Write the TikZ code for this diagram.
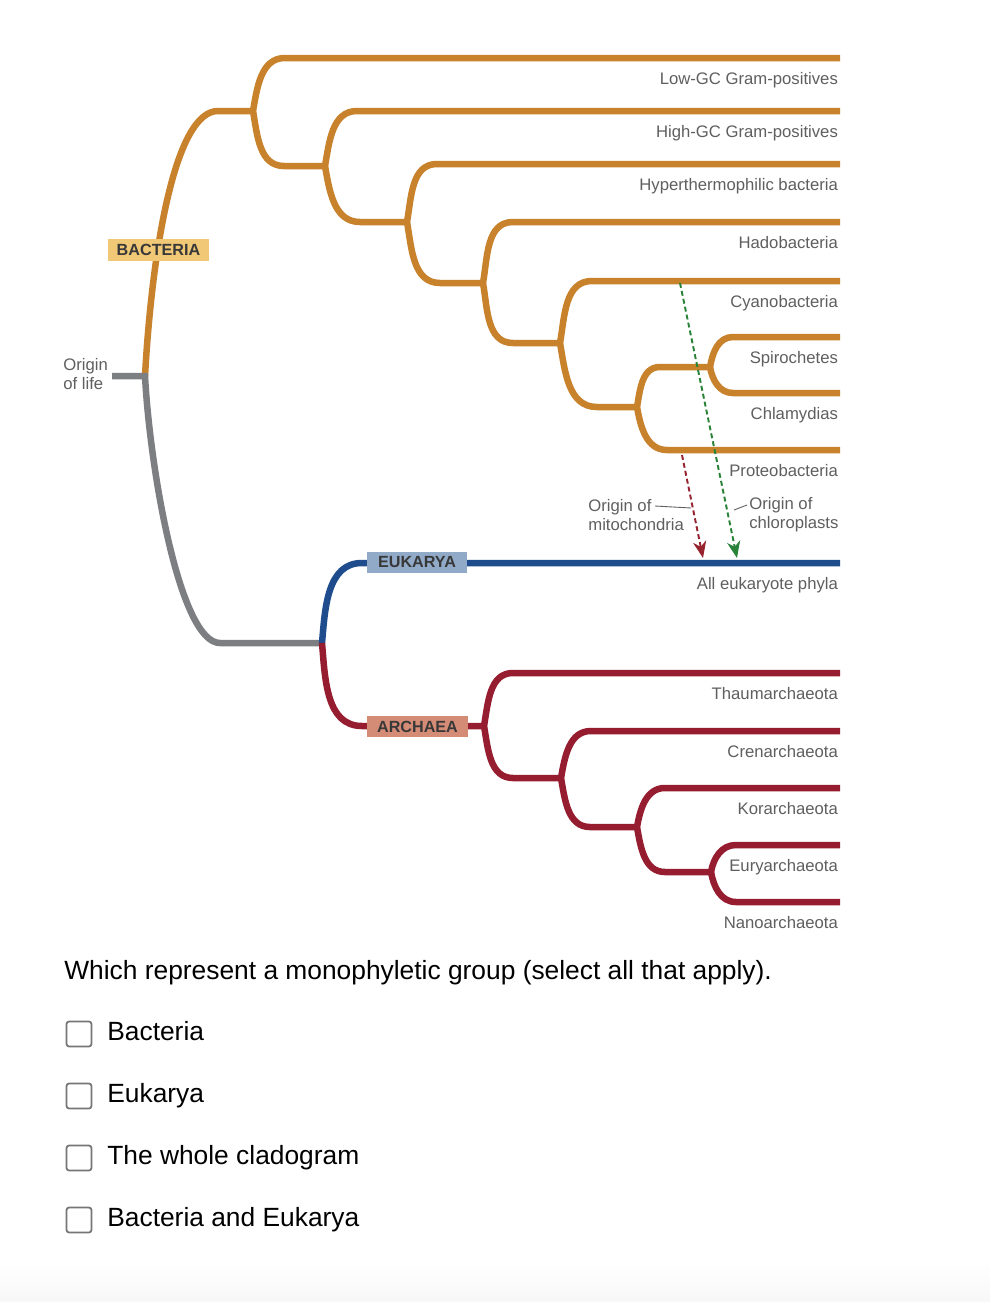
\documentclass[tikz,border=0pt]{standalone}
\usepackage{fontspec}
\setmainfont{Liberation Sans}
\usetikzlibrary{positioning,calc,arrows.meta}
\definecolor{bactcol}{RGB}{200,130,44}
\definecolor{rootcol}{RGB}{125,126,130}
\definecolor{eukcol}{RGB}{30,76,140}
\definecolor{archcol}{RGB}{150,28,48}
\definecolor{bacfill}{RGB}{240,200,118}
\definecolor{eukfill}{RGB}{145,170,200}
\definecolor{archfill}{RGB}{212,140,118}
\definecolor{chlcol}{RGB}{40,130,55}
\definecolor{mitcol}{RGB}{150,35,45}
\definecolor{lblgray}{RGB}{95,95,95}
\definecolor{boxgray}{RGB}{118,118,118}
\begin{document}
\begin{tikzpicture}[x=0.02cm, y=-0.02cm,
  br/.style={line width=0.13cm},
  brup/.style={out=80, in=180},
  brdn/.style={out=-80, in=180},
  lbl/.style={font=\fontsize{9.5}{10.8}\selectfont, text=lblgray, inner sep=0pt, text height=7pt, text depth=2pt},
  note/.style={font=\fontsize{9.5}{10.8}\selectfont, text=lblgray, inner sep=0pt, align=left},
  tag/.style={font=\fontsize{9.2}{11}\selectfont\bfseries, text=black!78, inner sep=0pt, minimum width=2.02cm, minimum height=0.43cm},
  dsh/.style={line width=1.1pt, dash pattern=on 2.8pt off 1.8pt, -{Stealth[length=9.5pt, width=7.5pt, inset=3pt]}},
  lead/.style={draw=lblgray, line width=0.5pt},
  chk/.style={draw=boxgray, line width=1pt, rounded corners=1.5pt, minimum size=0.5cm, inner sep=0pt},
  opt/.style={font=\fontsize{15}{18}\selectfont, inner sep=0pt, anchor=base west}]
\useasboundingbox (0,0) rectangle (990,1302);
\fill[white] (0,0) rectangle (990,1302);
\shade[top color=white, bottom color=black!3] (0,1262) rectangle (990,1302);

% junctions and tips
\coordinate (orig) at (112,376);
\coordinate (root) at (145,376);
\coordinate (bA) at (253,111);
\coordinate (bB) at (325,166);
\coordinate (bC) at (407,222);
\coordinate (bD) at (483,283);
\coordinate (bE) at (560,343);
\coordinate (bF) at (637,407);
\coordinate (bG) at (710,367);
\coordinate (tLow) at (840,58);
\coordinate (tHigh) at (840,111);
\coordinate (tHyp) at (840,164);
\coordinate (tHad) at (840,222);
\coordinate (tCya) at (840,281);
\coordinate (tSpi) at (840,337);
\coordinate (tChl) at (840,393);
\coordinate (tPro) at (840,450);
\coordinate (split) at (322,643);
\coordinate (eEnd) at (840,563);
\coordinate (aH) at (484,726);
\coordinate (aI) at (561,778);
\coordinate (aJ) at (637,827);
\coordinate (aK) at (711,872);
\coordinate (tTha) at (840,673);
\coordinate (tCre) at (840,731);
\coordinate (tKor) at (840,788);
\coordinate (tEur) at (840,845);
\coordinate (tNan) at (840,902);

% bacteria
\draw[br, bactcol] (root) .. controls +(7,-126) and +(-43,0) .. ($(bA)+(-35,0)$) -- (bA);
\foreach \a/\b/\d/\s in {bA/tLow/brup/32, bA/bB/brdn/31, bB/tHigh/brup/32, bB/bC/brdn/35,
    bC/tHyp/brup/30, bC/bD/brdn/33, bD/tHad/brup/30, bD/bE/brdn/30, bE/tCya/brup/32,
    bE/bF/brdn/37, bF/bG/brup/23, bF/tPro/brdn/30, bG/tSpi/brup/23, bG/tChl/brdn/23}
  \draw[br, bactcol] (\a) to[\d] ($(\a|-\b)+(\s,0)$) -- (\b);

% root, eukarya, archaea
\draw[br, rootcol] (orig) -- (root) .. controls +(5,94) and +(-40,0) .. ($(split)+(-102,0)$) -- (split);
\draw[br, eukcol] (split) to[out=85, in=180] ($(split|-eEnd)+(40,0)$) -- (eEnd);
\draw[br, archcol] (split) to[out=-85, in=180] ($(split|-aH)+(40,0)$) -- (aH);
\foreach \a/\b/\d/\s in {aH/tTha/brup/29, aH/aI/brdn/29, aI/tCre/brup/30, aI/aJ/brdn/29,
    aJ/tKor/brup/28, aJ/aK/brdn/28, aK/tEur/brup/25, aK/tNan/brdn/25}
  \draw[br, archcol] (\a) to[\d] ($(\a|-\b)+(\s,0)$) -- (\b);

\node[tag, fill=bacfill] (bacT) at (158.5,250) {BACTERIA};
\node[tag, fill=eukfill] (eukT) at (417,562.5) {EUKARYA};
\node[tag, fill=archfill] (arcT) at (417.5,726.5) {ARCHAEA};

\foreach \t/\n in {tLow/Low-GC Gram-positives, tHigh/High-GC Gram-positives,
    tHyp/Hyperthermophilic bacteria, tHad/Hadobacteria, tCya/Cyanobacteria,
    tSpi/Spirochetes, tChl/Chlamydias, tPro/Proteobacteria, eEnd/All eukaryote phyla,
    tTha/Thaumarchaeota, tCre/Crenarchaeota, tKor/Korarchaeota, tEur/Euryarchaeota,
    tNan/Nanoarchaeota}
  \node[lbl, below left=7.7pt and 1pt of \t] (l\t) {\n};

\node[note, anchor=west] (origT) at (63,374) {Origin\\of life};
\node[note, anchor=west] (mitT) at (588,515) {Origin of\\mitochondria};
\node[note, anchor=west] (chlT) at (749,515) {Origin of\\chloroplasts};

% endosymbiosis arrows
\coordinate (mitS) at (682,455);
\coordinate (mitE) at (703,558);
\coordinate (chlS) at (680,283);
\coordinate (chlE) at (737,558);
\draw[dsh, mitcol] (mitS) -- (mitE);
\draw[dsh, chlcol] (chlS) -- (chlE);
\coordinate (mitL) at (655,506);
\coordinate (mitR) at (691,508);
\coordinate (chlL) at (734,510);
\coordinate (chlR) at (747,505);
\draw[lead] (mitL) -- (mitR);
\draw[lead] (chlL) -- (chlR);

% question
\node[opt] (quest) at (64,979) {Which represent a monophyletic group (select all that apply).};
\foreach \o [count=\i] in {Bacteria, Eukarya, The whole cladogram, Bacteria and Eukarya} {
  \node[chk] (c\i) at (79,972+62*\i) {};
  \node[opt] (o\i) at (107,978+62*\i) {\o};
}
\end{tikzpicture}
\end{document}
